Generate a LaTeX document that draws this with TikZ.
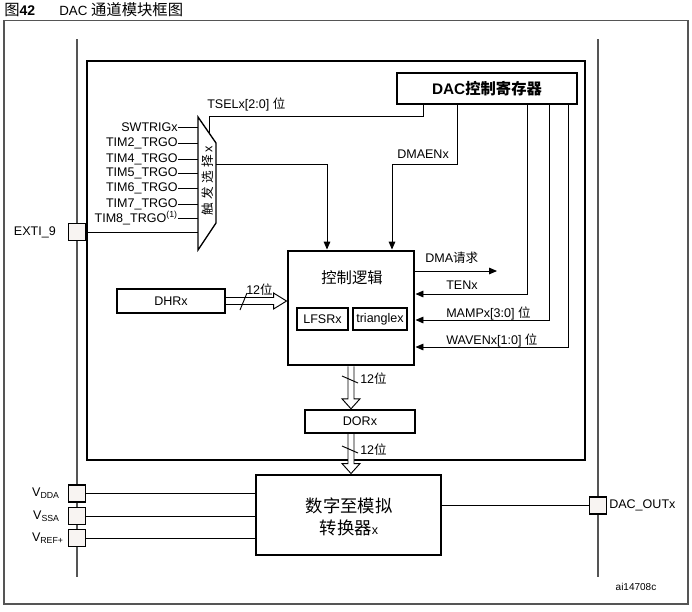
\documentclass[tikz,border=0pt]{standalone}
\usepackage{fontspec}
\setmainfont{Liberation Sans}
\newfontfamily\cjk{Noto Sans CJK SC}
\usetikzlibrary{arrows.meta,calc}
\newcommand{\zh}[1]{{\cjk #1}}
\newcommand{\lblsize}{\fontsize{9.4}{11}\selectfont}
\newcommand{\bigsize}{\fontsize{11.5}{13}\selectfont}
\newcommand{\convsize}{\fontsize{13}{16}\selectfont}
\definecolor{pinfill}{RGB}{248,244,242}
\definecolor{framegray}{RGB}{85,85,85}
\tikzset{
  thinline/.style={line width=0.7pt},
  thickbox/.style={draw, line width=2.2pt, fill=white, inner sep=0pt},
  lbl/.style={inner sep=0pt, font=\lblsize},
  pinbox/.style={draw, line width=0.8pt, fill=pinfill, minimum size=12.75pt, inner sep=0pt},
  arr/.style={line width=0.7pt, -{Triangle[length=6pt,width=5pt]}},
  busarrow/.style={draw, line width=0.7pt, fill=white, line join=miter},
  slash/.style={line width=0.7pt}
}
\begin{document}
\begin{tikzpicture}[x=0.75pt,y=-0.75pt]
\useasboundingbox (0,0) rectangle (692,611);

% title
\node[anchor=west, inner sep=0pt] (titleA) at (4,10) {\fontsize{11.5}{13}\selectfont\zh{图}\textbf{\fontsize{10.5}{13}\selectfont 42}};
\node[anchor=west, inner sep=0pt] (titleB) at (59,10) {\fontsize{10}{13}\selectfont DAC \fontsize{11.5}{13}\selectfont\zh{通道模块框图}};

% outer frame
\draw[framegray, line width=0.8pt] (4,20.5) rectangle (688,604);
% vertical bus lines
\coordinate (lvtop) at (77,39);
\coordinate (lvbot) at (77,577);
\coordinate (rvtop) at (598,39);
\coordinate (rvbot) at (598,577);
\draw[framegray, line width=1pt] (lvtop) -- (lvbot);
\draw[framegray, line width=1pt] (rvtop) -- (rvbot);

% inner thick box
\draw[line width=2.2pt] (87,61) rectangle (585,460);

% register
\node[thickbox, minimum width=180*0.75pt, minimum height=31*0.75pt, font=\bigsize\bfseries] (reg) at (487,88.5) {DAC\zh{控制寄存器}};

% control logic
\node[thickbox, minimum width=126*0.75pt, minimum height=114*0.75pt] (ctrl) at (351,308) {};
\node[inner sep=0pt, font=\bigsize] (ctrltxt) at (352,278) {\zh{控制逻辑}};
\node[thickbox, line width=1.8pt, minimum width=51*0.75pt, minimum height=22*0.75pt, font=\lblsize] (lfsr) at (322.5,319) {LFSRx};
\node[thickbox, line width=1.8pt, minimum width=54*0.75pt, minimum height=22*0.75pt, font=\lblsize] (tri) at (380,319) {trianglex};

% DHRx, DORx, converter
\node[thickbox, line width=1.8pt, minimum width=108*0.75pt, minimum height=24*0.75pt, font=\lblsize] (dhr) at (171,301) {DHRx};
\node[thickbox, line width=1.8pt, minimum width=110*0.75pt, minimum height=23*0.75pt, font=\lblsize] (dor) at (360,421.5) {DORx};
\node[thickbox, minimum width=185*0.75pt, minimum height=80*0.75pt] (conv) at (348.5,515) {};
\node[inner sep=0pt, font=\convsize, align=center] (convtxt) at (349,517) {\zh{数字至模拟}\\\zh{转换器}{\lblsize x}};

% multiplexer
\coordinate (m1) at (198,117);
\coordinate (m2) at (216,143);
\coordinate (m3) at (216,223);
\coordinate (m4) at (198,250);
\draw[line width=1pt, fill=white] (m1) -- (m2) -- (m3) -- (m4) -- cycle;
\node[rotate=90, inner sep=0pt, font=\fontsize{9.5}{12}\selectfont] (muxtxt) at (207.5,181) {\zh{触}\hspace{2.6pt}\zh{发}\hspace{2.6pt}\zh{选}\hspace{2.6pt}\zh{择}\hspace{1.5pt}x};
\coordinate (muxout) at (216,164);
\coordinate (muxtsel) at (209,133);

% trigger inputs
\foreach \nm/\txt/\yy in {sw/SWTRIGx/127, t2/TIM2\_TRGO/143, t4/TIM4\_TRGO/159, t5/TIM5\_TRGO/173, t6/TIM6\_TRGO/188, t7/TIM7\_TRGO/204} {
  \node[lbl, anchor=east] (\nm) at (178,\yy) {\txt};
  \draw[thinline] (\nm.east) -- (\nm.east -| m1);
}
\node[lbl, anchor=east] (t8) at (178,218) {TIM8\_TRGO\textsuperscript{(1)}};
\draw[thinline] (t8.east) -- (t8.east -| m1);

% EXTI pin
\node[pinbox] (exti) at (77,232) {};
\node[lbl, anchor=east] (extilbl) at (56,232) {EXTI\_9};
\draw[thinline] (exti.east) -- (exti.east -| m1);

% TSEL
\coordinate (tselA) at (423,104);
\draw[thinline] (reg.south -| tselA) -- (423,116) -- (209,116) -- (muxtsel);
\node[lbl, anchor=west] (tsellbl) at (207,104) {TSELx[2:0] \zh{位}};

% mux output to ctrl
\draw[arr] (muxout) -- (327,164) -- (ctrl.north -| 327,0);

% DMAEN
\draw[arr] (reg.south -| 457,0) -- (457,164) -- (392,164) -- (ctrl.north -| 392,0);
\node[lbl, anchor=west] (dmaenlbl) at (397,154) {DMAENx};

% DMA request
\coordinate (dmareq) at (497,271);
\draw[arr] (ctrl.east |- dmareq) -- (dmareq);
\node[lbl, anchor=west] (dmalbl) at (425,258) {DMA\zh{请求}};

% TEN, MAMP, WAVEN
\draw[arr] (reg.south -| 527,0) -- (527,294) -- (ctrl.east |- 0,294);
\node[lbl, anchor=west] (tenlbl) at (446,285) {TENx};
\draw[arr] (reg.south -| 549,0) -- (549,320) -- (ctrl.east |- 0,320);
\node[lbl, anchor=west] (mamplbl) at (446,313) {MAMPx[3:0] \zh{位}};
\draw[arr] (reg.south -| 568,0) -- (568,347) -- (ctrl.east |- 0,347);
\node[lbl, anchor=west] (wavelbl) at (446,340) {WAVENx[1:0] \zh{位}};

% DHR -> ctrl bus
\path[busarrow] ($(dhr.east)+(0,-3.5)$) -- ($(ctrl.west |- dhr.east)+(-13,-3.5)$) -- ($(ctrl.west |- dhr.east)+(-13,-8)$) -- (ctrl.west |- dhr.east) -- ($(ctrl.west |- dhr.east)+(-13,8)$) -- ($(ctrl.west |- dhr.east)+(-13,3.5)$) -- ($(dhr.east)+(0,3.5)$);
\draw[slash] (240,310) -- (247,293);
\node[lbl, anchor=west] (b1lbl) at (246,290) {12\zh{位}};

% ctrl -> DOR bus
\coordinate (bx) at (351,0);
\path[busarrow] ($(ctrl.south -| bx)+(-3,0)$) -- ($(dor.north -| bx)+(-3,-10)$) -- ($(dor.north -| bx)+(-9,-10)$) -- (dor.north -| bx) -- ($(dor.north -| bx)+(9,-10)$) -- ($(dor.north -| bx)+(3,-10)$) -- ($(ctrl.south -| bx)+(3,0)$);
\draw[slash] (342,376) -- (358,383);
\node[lbl, anchor=west] (b2lbl) at (360,379) {12\zh{位}};

% DOR -> converter bus
\path[busarrow] ($(dor.south -| bx)+(-3,0)$) -- ($(conv.north -| bx)+(-3,-10)$) -- ($(conv.north -| bx)+(-9,-10)$) -- (conv.north -| bx) -- ($(conv.north -| bx)+(9,-10)$) -- ($(conv.north -| bx)+(3,-10)$) -- ($(dor.south -| bx)+(3,0)$);
\draw[slash] (342,446) -- (358,453);
\node[lbl, anchor=west] (b3lbl) at (360,450) {12\zh{位}};

% power pins
\node[pinbox] (vdda) at (77,493.5) {};
\node[pinbox] (vssa) at (77,516) {};
\node[pinbox] (vref) at (77,538) {};
\draw[thinline] (vdda.east) -- (conv.west |- vdda.east);
\draw[thinline] (vssa.east) -- (conv.west |- vssa.east);
\draw[thinline] (vref.east) -- (conv.west |- vref.east);
\node[lbl, anchor=east] (vddalbl) at (60,493.5) {V\textsubscript{DDA}};
\node[lbl, anchor=east] (vssalbl) at (60,516) {V\textsubscript{SSA}};
\node[lbl, anchor=east] (vreflbl) at (64,538) {V\textsubscript{REF+}};

% output pin
\node[pinbox] (out) at (598,505.5) {};
\draw[thinline] (conv.east |- out.west) -- (out.west);
\node[lbl, anchor=west] (outlbl) at (609,505.5) {DAC\_OUTx};

\node[inner sep=0pt, font=\fontsize{7.5}{9}\selectfont] (code) at (636,587) {ai14708c};
\end{tikzpicture}
\end{document}
